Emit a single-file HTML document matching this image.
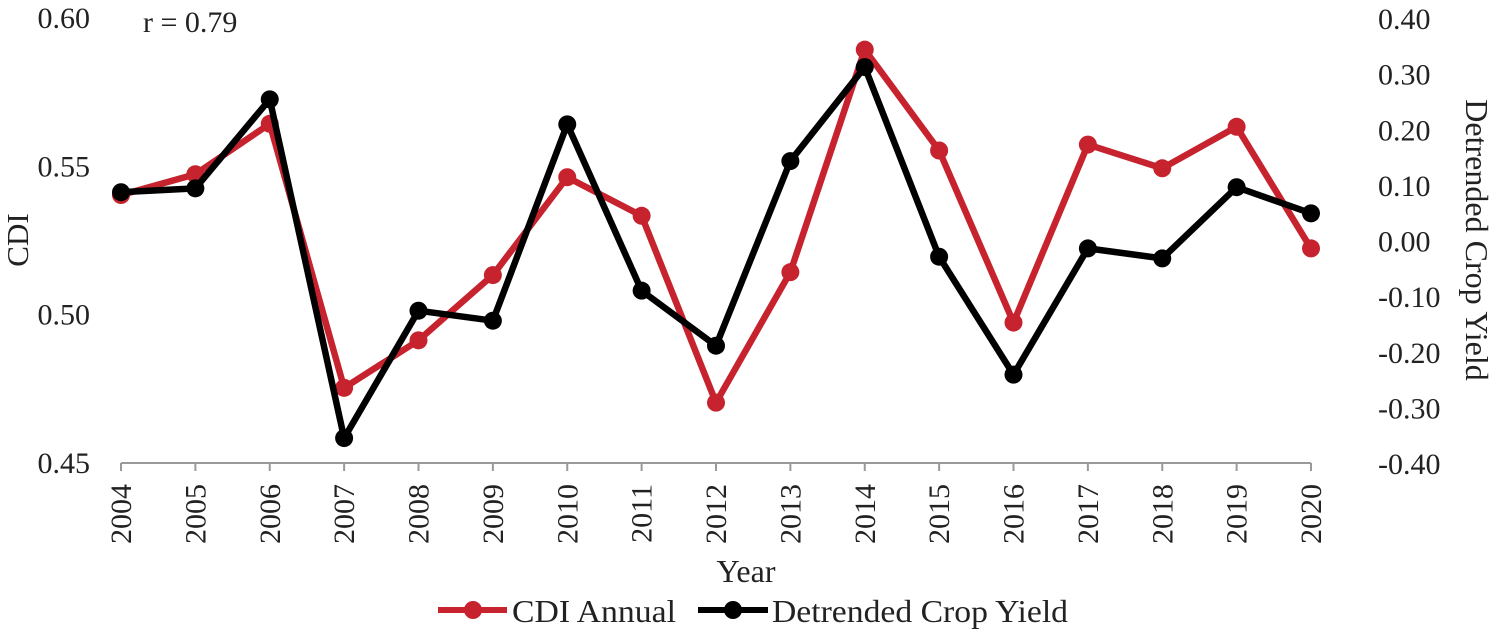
<!DOCTYPE html>
<html><head><meta charset="utf-8"><style>
html,body{margin:0;padding:0;background:#fff;}
svg text{font-family:"Liberation Serif",serif;fill:#222;}
</style></head><body>
<svg id="chart" width="1498" height="634" viewBox="0 0 1498 634" xmlns="http://www.w3.org/2000/svg">
<g id="axes"></g>
<g id="series"></g>
<text x="143" y="32" font-size="30">r = 0.79</text>
<text transform="translate(28,240) rotate(-90)" font-size="31" text-anchor="middle">CDI</text>
<text transform="translate(1466,240) rotate(90)" font-size="32" text-anchor="middle">Detrended Crop Yield</text>
<text x="746" y="582" font-size="32" text-anchor="middle">Year</text>
<g>
<g>
<line x1="438" y1="610" x2="507" y2="610" stroke="#c6232f" stroke-width="6"/><circle cx="473" cy="610" r="9" fill="#c6232f"/>
<text x="512" y="622" font-size="32" textLength="164" lengthAdjust="spacingAndGlyphs">CDI Annual</text></g>
<g>
<line x1="698" y1="610" x2="768" y2="610" stroke="#000" stroke-width="6"/><circle cx="733" cy="610" r="9" fill="#000"/>
<text x="772" y="622" font-size="32" textLength="296" lengthAdjust="spacingAndGlyphs">Detrended Crop Yield</text></g>
</g>
</svg>
<script>
const years=[2004,2005,2006,2007,2008,2009,2010,2011,2012,2013,2014,2015,2016,2017,2018,2019,2020];
const cdi=[0.540,0.547,0.564,0.475,0.491,0.513,0.546,0.533,0.470,0.514,0.589,0.555,0.497,0.557,0.549,0.563,0.522];
const yieldD=[0.085,0.092,0.252,-0.357,-0.128,-0.146,0.207,-0.092,-0.191,0.141,0.310,-0.031,-0.243,-0.016,-0.034,0.094,0.047];
const leftTicks=[0.45,0.50,0.55,0.60];
const rightTicks=[-0.4,-0.3,-0.2,-0.1,0,0.1,0.2,0.3,0.4];
const NS="http://www.w3.org/2000/svg";
const x0=121,x1=1311,yTop=17,yBot=462;
const xs=i=>x0+(x1-x0)*i/(years.length-1);
const yL=v=>yBot-(v-0.45)/(0.15)*(yBot-yTop);
const yR=v=>yBot-(v+0.4)/(0.8)*(yBot-yTop);
const axes=document.getElementById('axes'),ser=document.getElementById('series');
function mk(t,a,p){const e=document.createElementNS(NS,t);for(const k in a)e.setAttribute(k,a[k]);p.appendChild(e);return e;}
const ax=mk('line',{x1:x0,y1:463,x2:x1,y2:463,stroke:'#999','stroke-width':2},axes);


years.forEach((yr,i)=>{
 const tk=mk('line',{x1:xs(i),y1:463,x2:xs(i),y2:471,stroke:'#999','stroke-width':2},axes);
 
 
 const t=mk('text',{transform:`translate(${xs(i)+10},484) rotate(-90)`,'font-size':30,'text-anchor':'end'},axes);
 t.textContent=yr;
 
 
});
leftTicks.forEach(v=>{
 const t=mk('text',{x:90,y:yL(v)+11,'font-size':30,'text-anchor':'end'},axes);
 t.textContent=v.toFixed(2);
 
 
});
rightTicks.forEach(v=>{
 const t=mk('text',{x:1378,y:yR(v)+12,'font-size':30},axes);
 t.textContent=v.toFixed(2);
 
 
});
function series(vals,fy,color,name){
 const pl=mk('polyline',{points:vals.map((v,i)=>xs(i)+','+fy(v)).join(' '),fill:'none',stroke:color,'stroke-width':6.5,'stroke-linejoin':'round'},ser);
 
 
 vals.forEach((v,i)=>{
  const c=mk('circle',{cx:xs(i),cy:fy(v),r:9,fill:color},ser);
  
  
 });
}
series(cdi,yL,'#c6232f','cdi');
series(yieldD,yR,'#000','yield');
</script>
</body></html>
